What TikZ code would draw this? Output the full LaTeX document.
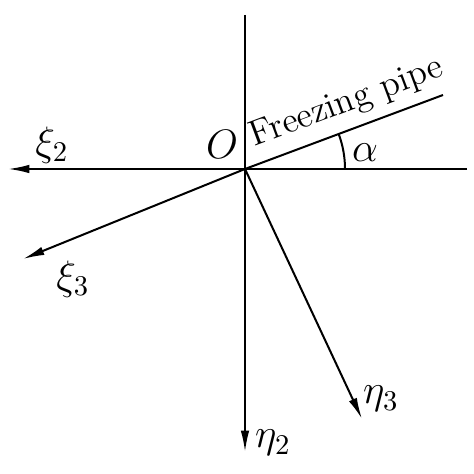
\documentclass[tikz,border=0pt]{standalone}
\usepackage{amsmath}
\usepackage{tikz}
\usetikzlibrary{arrows.meta}

\begin{document}
\begin{tikzpicture}[x=0.35pt,y=0.35pt,line width=0.7pt,
    axis/.style={-{Latex[length=7.5pt,width=3pt]}},
    lbl/.style={font=\fontsize{14}{16}\selectfont,inner sep=1pt}]
    \useasboundingbox (-245,-305) rectangle (229,169);
    % Origin and end points
    \coordinate (O) at (0,0);
    \coordinate (east) at (222,0);
    \coordinate (north) at (0,154);
    \coordinate (xi2) at (-237,0);
    \coordinate (eta2) at (0,-283);
    \coordinate (pipe) at (198,74);
    \coordinate (xi3) at (-222,-90);
    \coordinate (eta3) at (117,-250);

    % Fixed axes
    \draw (east) -- (O);
    \draw (north) -- (O);
    \draw[axis] (O) -- (xi2);
    \draw[axis] (O) -- (eta2);

    % Freezing pipe and rotated axes
    \draw (O) -- (pipe);
    \draw[axis] (O) -- (xi3);
    \draw[axis] (O) -- (eta3);

    % Angle
    \draw ([shift={(0:100)}]O) arc (0:20.5:100);

    % Labels
    \node[lbl] (lO) at (-23,25) {$O$};
    \node[lbl] (lxi2) at (-193,24) {$\xi_2$};
    \node[lbl] (lxi3) at (-172,-110) {$\xi_3$};
    \node[lbl] (leta2) at (28,-274) {$\eta_2$};
    \node[lbl] (leta3) at (136,-230) {$\eta_3$};
    \node[lbl] (lalpha) at (120,16) {$\alpha$};
    \node[lbl,font=\fontsize{12.5}{14}\selectfont,inner sep=0pt,rotate=20.5] (lpipe) at (102,66) {Freezing pipe};
\end{tikzpicture}
\end{document}
